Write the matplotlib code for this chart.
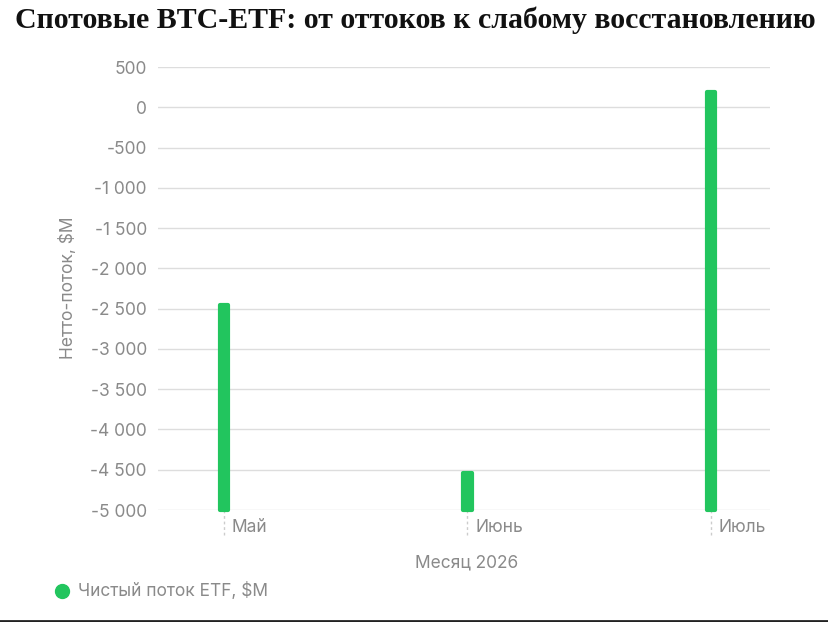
import matplotlib
matplotlib.use("Agg")
import matplotlib.pyplot as plt
from matplotlib.ticker import FuncFormatter, MultipleLocator
from matplotlib.lines import Line2D

months = ["Май", "Июнь", "Июль"]
net_flow = [-2450, -4540, 185]
baseline = -5000

green = "#22c55e"
grey = "#8a8a8a"

plt.rcParams["font.family"] = ["Inter", "DejaVu Sans"]

fig = plt.figure(figsize=(8.29, 6.22), dpi=100)
ax = fig.add_axes([158 / 829, 1 - 510 / 622, 612 / 829, 443 / 622])

x = list(range(len(months)))
heights = [v - baseline for v in net_flow]
ax.bar(x, heights, bottom=baseline, width=0.036, color=green,
       edgecolor=green, linewidth=3, joinstyle="round", zorder=3, clip_on=False)

ax.set_ylim(baseline, 500)
ax.set_xlim(-66 / 243.5, 2 + 59 / 243.5)
ax.yaxis.set_major_locator(MultipleLocator(500))
ax.yaxis.set_major_formatter(FuncFormatter(lambda v, p: f"{v:,.0f}".replace(",", " ")))
ax.grid(axis="y", color="#dddddd", linewidth=1)
ax.set_axisbelow(True)
for s in ax.spines.values():
    s.set_visible(False)
ax.tick_params(axis="y", length=0, pad=8, labelsize=12.5, labelcolor=grey)
ax.set_xticks([])

# dashed ticks and labels beside them
trans = ax.get_xaxis_transform()
for i, m in zip(x, months):
    ax.plot([i, i], [0, -0.06], transform=trans, color="#cccccc",
            linestyle=(0, (2, 2)), linewidth=1, clip_on=False)
    ax.annotate(m, xy=(i, 0), xycoords=trans, xytext=(5.5, -12.5),
                textcoords="offset points", ha="left", va="center",
                fontsize=12.5, color=grey)

fig.text(467 / 829, 1 - 563 / 622, "Месяц 2026", ha="center", va="center",
         fontsize=12.5, color=grey)
fig.text(68 / 829, 1 - 288 / 622, "Нетто-поток, $M", ha="center", va="center",
         rotation=90, fontsize=12.5, color=grey)

fig.text(415 / 829, 1 - 20 / 622,
         "Спотовые BTC-ETF: от оттоков к слабому восстановлению",
         ha="center", va="center", fontsize=21.5, fontweight="bold",
         family="Liberation Serif", color="#111111")

# legend
fig.add_artist(Line2D([62 / 829], [1 - 591 / 622], marker="o", markersize=10,
                      color=green, linestyle="none"))
fig.text(78 / 829, 1 - 591 / 622, "Чистый поток ETF, $M", ha="left",
         va="center", fontsize=12.5, color=grey)

fig.add_artist(Line2D([0, 1], [1 / 622, 1 / 622], color="#222222", linewidth=2))

fig.savefig("out.png", dpi=100)
